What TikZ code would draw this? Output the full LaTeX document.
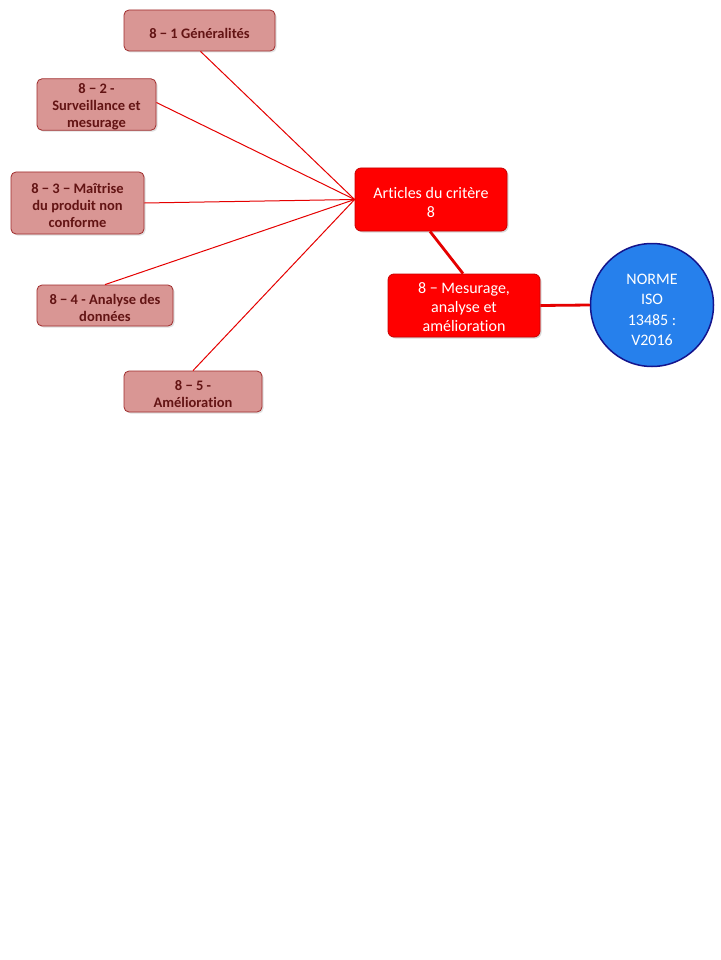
\documentclass[tikz,border=0pt]{standalone}
\usepackage{fontspec}
\setmainfont[Ligatures={NoCommon}]{Carlito}
\usetikzlibrary{shadows}
\definecolor{subfill}{RGB}{217,150,148}
\definecolor{subdraw}{RGB}{160,45,45}
\definecolor{subtext}{RGB}{99,20,20}
\definecolor{mainred}{RGB}{255,0,0}
\definecolor{mainborder}{RGB}{200,0,0}
\definecolor{circfill}{RGB}{38,128,236}
\definecolor{circdraw}{RGB}{20,20,140}
\newcommand{\tstrut}[1]{\rule{0pt}{#1}}
\tikzset{
  subbox/.style={draw=subdraw, fill=subfill, rounded corners=5pt, line width=0.8pt,
    text=subtext, font=\fontsize{14.5}{17}\selectfont\bfseries, align=center,
    inner sep=0pt,
    drop shadow={shadow xshift=1.5pt, shadow yshift=-1.5pt, opacity=0.25}},
  mainbox/.style={draw=mainborder, fill=mainred, rounded corners=6pt, line width=0.8pt,
    text=white, font=\fontsize{16}{19}\selectfont, align=center, inner sep=0pt,
    drop shadow={shadow xshift=1.5pt, shadow yshift=-1.5pt, opacity=0.3}},
  branch/.style={draw=red!90!black, line width=1pt},
  trunk/.style={draw=red!90!black, line width=2.8pt},
}
\begin{document}
\begin{tikzpicture}[x=1pt,y=-1pt]
\useasboundingbox[fill=white] (0,0) rectangle (720,960);
\node[subbox, minimum width=151pt, minimum height=41pt] (b1) at (199.5,30.5) {\tstrut{15.5pt}8 − 1 Généralités};
\node[subbox, minimum width=119pt, minimum height=51pt] (b2) at (96.5,104.5) {\tstrut{15pt}8 − 2 -\\Surveillance et\\mesurage};
\node[subbox, minimum width=133pt, minimum height=62pt] (b3) at (77.5,203) {\tstrut{15pt}8 − 3 − Maîtrise\\du produit non\\conforme};
\node[subbox, minimum width=136pt, minimum height=41pt] (b4) at (105,305.5) {\tstrut{15pt}8 − 4 - Analyse des\\données};
\node[subbox, minimum width=138pt, minimum height=41pt] (b5) at (193,391.5) {\tstrut{15pt}8 − 5 -\\Amélioration};
\node[mainbox, minimum width=152pt, minimum height=63pt] (art) at (431,199.5) {\tstrut{17.5pt}Articles du critère\\8};
\node[mainbox, minimum width=152pt, minimum height=63pt] (mes) at (464,305.5) {\tstrut{15pt}8 − Mesurage,\\analyse et\\amélioration};
\node[circle, draw=circdraw, line width=1.5pt, fill=circfill, minimum size=123pt, inner sep=0pt,
  text=white, font=\fontsize{16}{20.5}\selectfont, align=center] (iso) at (652,305) {\tstrut{20pt}NORME\\ISO\\13485 :\\V2016};
\coordinate (hub) at (art.west);
\path[branch] (hub) -- ([xshift=1pt]b1.south);
\path[branch] (hub) -- ([yshift=2pt]b2.east);
\path[branch] (hub) -- (b3.east);
\path[branch] (hub) -- (b4.north);
\path[branch] (hub) -- (b5.north);
\path[trunk] ([xshift=-1pt]art.south) -- ([xshift=-1pt]mes.north);
\path[trunk] (mes.east) -- (iso.west);
\end{tikzpicture}
\end{document}
